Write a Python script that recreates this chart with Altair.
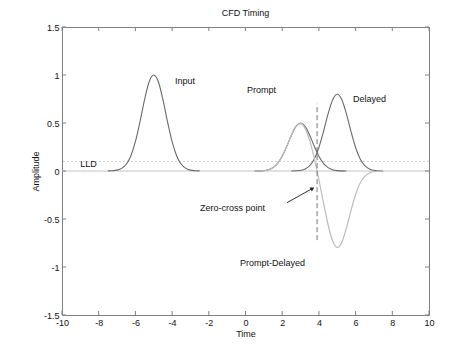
import altair as alt
import pandas as pd

FONT = "Liberation Sans"

# ---- data ----
t_input = [-7.5, -7.25, -7.0, -6.75, -6.5, -6.25, -6.0, -5.75, -5.5, -5.25, -5.0,
           -4.75, -4.5, -4.25, -4.0, -3.75, -3.5, -3.25, -3.0, -2.75, -2.5]
v_input = [0.001, 0.003, 0.009, 0.027, 0.070, 0.157, 0.306, 0.514, 0.744, 0.929, 1.0,
           0.929, 0.744, 0.514, 0.306, 0.157, 0.070, 0.027, 0.009, 0.003, 0.001]

t_prompt = [0.5, 0.75, 1.0, 1.25, 1.5, 1.75, 2.0, 2.25, 2.5, 2.75, 3.0,
            3.25, 3.5, 3.75, 4.0, 4.25, 4.5, 4.75, 5.0, 5.25, 5.5]
v_prompt = [0.000, 0.001, 0.004, 0.013, 0.035, 0.079, 0.153, 0.257, 0.372, 0.465, 0.5,
            0.465, 0.372, 0.257, 0.153, 0.079, 0.035, 0.013, 0.004, 0.001, 0.000]

t_delayed = [2.5, 2.75, 3.0, 3.25, 3.5, 3.75, 4.0, 4.25, 4.5, 4.75, 5.0,
             5.25, 5.5, 5.75, 6.0, 6.25, 6.5, 6.75, 7.0, 7.25, 7.5]
v_delayed = [0.000, 0.002, 0.007, 0.021, 0.056, 0.126, 0.245, 0.411, 0.595, 0.743, 0.8,
             0.743, 0.595, 0.411, 0.245, 0.126, 0.056, 0.021, 0.007, 0.002, 0.000]

t_diff = [0.5, 0.75, 1.0, 1.25, 1.5, 1.75, 2.0, 2.25, 2.5, 2.75, 3.0, 3.25, 3.5, 3.75,
          4.0, 4.25, 4.5, 4.75, 5.0, 5.25, 5.5, 5.75, 6.0, 6.25, 6.5, 6.75, 7.0, 7.25, 7.5]
v_diff = [0.000, 0.001, 0.004, 0.013, 0.035, 0.079, 0.153, 0.257, 0.372, 0.463, 0.493,
          0.444, 0.316, 0.131, -0.092, -0.332, -0.560, -0.730, -0.796, -0.742, -0.595,
          -0.411, -0.245, -0.126, -0.056, -0.021, -0.007, -0.002, 0.000]

lld_level = 0.1
zero_cross_t = 3.9
zero_cross_span = [-0.72, 0.70]

arrow_t = [2.26, 3.65]
arrow_v = [-0.33, -0.182]

label_text = ["Input", "Prompt", "Delayed", "LLD", "Zero-cross point", "Prompt-Delayed"]
label_t = [-3.84, 0.08, 5.86, -9.0, -2.48, -0.3]
label_v = [0.94, 0.84, 0.75, 0.07, -0.39, -0.96]

x_ticks = [-10, -8, -6, -4, -2, 0, 2, 4, 6, 8, 10]
y_ticks = [-1.5, -1.0, -0.5, 0.0, 0.5, 1.0, 1.5]

# ---- build tables ----
dark = pd.concat([
    pd.DataFrame({"t": t_input, "v": v_input, "s": "Input"}),
    pd.DataFrame({"t": t_prompt, "v": v_prompt, "s": "Prompt"}),
    pd.DataFrame({"t": t_delayed, "v": v_delayed, "s": "Delayed"}),
])
diff = pd.DataFrame({"t": t_diff, "v": v_diff})
labels = pd.DataFrame({"text": label_text, "t": label_t, "v": label_v})
arrow = pd.DataFrame({"t": arrow_t, "v": arrow_v})
xt = pd.DataFrame({"t": x_ticks})
yt = pd.DataFrame({"v": y_ticks})

W, H = 367, 288
xs = alt.Scale(domain=[-10, 10], nice=False, zero=False)
ys = alt.Scale(domain=[-1.5, 1.5], nice=False, zero=False)

xaxis = alt.Axis(values=x_ticks, ticks=False, domain=False, grid=False,
                 labelFont=FONT, labelFontSize=9, labelColor="#111", labelPadding=3,
                 labelFlush=False, labelOverlap=False,
                 labelExpr="toString(datum.value)",
                 titleFont=FONT, titleFontSize=9, titleFontWeight="normal",
                 titleColor="#111", titlePadding=2)
yaxis = alt.Axis(values=y_ticks, ticks=False, domain=False, grid=False,
                 labelFont=FONT, labelFontSize=9, labelColor="#111", labelPadding=3,
                 labelFlush=False, labelOverlap=False,
                 labelExpr="toString(datum.value)",
                 titleFont=FONT, titleFontSize=9, titleFontWeight="normal",
                 titleColor="#111", titlePadding=3)

X = alt.X("t:Q", scale=xs, axis=xaxis, title="Time")
Y = alt.Y("v:Q", scale=ys, axis=yaxis, title="Amplitude")

zero_line = alt.Chart(pd.DataFrame({"v": [0.0]})).mark_rule(
    color="#c4c4c4", strokeWidth=1).encode(y=Y)
lld_line = alt.Chart(pd.DataFrame({"v": [lld_level]})).mark_rule(
    color="#cfcfcf", strokeWidth=1, strokeDash=[2, 2]).encode(y=Y)

dark_lines = alt.Chart(dark).mark_line(
    color="#6a6a6a", strokeWidth=1.1, interpolate="monotone").encode(
    x=X, y=Y, detail="s:N")
diff_line = alt.Chart(diff).mark_line(
    color="#bcbcbc", strokeWidth=1.2, interpolate="monotone").encode(x=X, y=Y)

vdash = alt.Chart(pd.DataFrame({"t": [zero_cross_t], "v": [zero_cross_span[0]],
                                "v2": [zero_cross_span[1]]})).mark_rule(
    color="#666", strokeWidth=0.9, strokeDash=[5, 3]).encode(x=X, y=Y, y2="v2:Q")

arrow_line = alt.Chart(arrow).mark_line(color="#333", strokeWidth=1).encode(x=X, y=Y)
arrow_head = alt.Chart(arrow.tail(1)).mark_point(
    shape="triangle-up", angle=60, filled=True, size=22, color="#222", opacity=1
).encode(x=X, y=Y)

texts = alt.Chart(labels).mark_text(
    font=FONT, fontSize=9, color="#111", align="left", baseline="middle").encode(
    x=X, y=Y, text="text:N")

tick_len = 4
bottom_ticks = alt.Chart(xt).mark_rule(color="#808080").encode(
    x=X, y=alt.value(H), y2=alt.value(H - tick_len))
top_ticks = alt.Chart(xt).mark_rule(color="#808080").encode(
    x=X, y=alt.value(0), y2=alt.value(tick_len))
left_ticks = alt.Chart(yt).mark_rule(color="#808080").encode(
    y=Y, x=alt.value(0), x2=alt.value(tick_len))
right_ticks = alt.Chart(yt).mark_rule(color="#808080").encode(
    y=Y, x=alt.value(W), x2=alt.value(W - tick_len))

chart = alt.layer(
    zero_line, lld_line, dark_lines, diff_line, vdash, arrow_line, arrow_head, texts,
    bottom_ticks, top_ticks, left_ticks, right_ticks
).properties(
    width=W, height=H,
    title=alt.TitleParams("CFD Timing", font=FONT, fontSize=9, fontWeight="normal",
                          color="#111", offset=5),
    autosize=alt.AutoSizeParams(type="none"),
    padding={"left": 54, "top": 19, "right": 20, "bottom": 30},
).configure_view(stroke="#808080", strokeWidth=1)

chart.save("out.html", embed_options={"renderer": "svg", "actions": False})
